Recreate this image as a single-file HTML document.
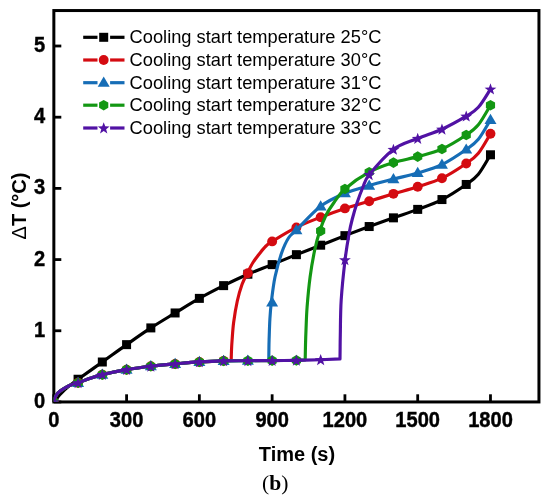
<!DOCTYPE html>
<html><head><meta charset="utf-8"><title>chart</title>
<style>
html,body{margin:0;padding:0;background:#fff;}
body{width:550px;height:500px;overflow:hidden;}
svg{display:block;font-family:"Liberation Sans",sans-serif;}
</style></head><body>
<svg width="550" height="500" viewBox="0 0 550 500">
<rect width="550" height="500" fill="#fff"/>
<defs><clipPath id="plot"><rect x="53.85" y="10.55" width="485.1" height="391.2"/></clipPath></defs>
<rect x="53.85" y="10.55" width="485.1" height="391.4" fill="none" stroke="#000" stroke-width="3"/>
<line x1="53.80" y1="401.95" x2="53.80" y2="394.3" stroke="#000" stroke-width="2.8"/>
<line x1="126.58" y1="401.95" x2="126.58" y2="394.3" stroke="#000" stroke-width="2.8"/>
<line x1="199.36" y1="401.95" x2="199.36" y2="394.3" stroke="#000" stroke-width="2.8"/>
<line x1="272.14" y1="401.95" x2="272.14" y2="394.3" stroke="#000" stroke-width="2.8"/>
<line x1="344.92" y1="401.95" x2="344.92" y2="394.3" stroke="#000" stroke-width="2.8"/>
<line x1="417.70" y1="401.95" x2="417.70" y2="394.3" stroke="#000" stroke-width="2.8"/>
<line x1="490.48" y1="401.95" x2="490.48" y2="394.3" stroke="#000" stroke-width="2.8"/>
<line x1="53.9" y1="401.95" x2="61.3" y2="401.95" stroke="#000" stroke-width="2.8"/>
<line x1="53.9" y1="330.76" x2="61.3" y2="330.76" stroke="#000" stroke-width="2.8"/>
<line x1="53.9" y1="259.57" x2="61.3" y2="259.57" stroke="#000" stroke-width="2.8"/>
<line x1="53.9" y1="188.38" x2="61.3" y2="188.38" stroke="#000" stroke-width="2.8"/>
<line x1="53.9" y1="117.19" x2="61.3" y2="117.19" stroke="#000" stroke-width="2.8"/>
<line x1="53.9" y1="46.00" x2="61.3" y2="46.00" stroke="#000" stroke-width="2.8"/>
<g clip-path="url(#plot)">
<path d="M53.80 401.95 C55.01 400.53 58.65 395.96 61.08 393.41 C63.50 390.86 65.53 389.01 68.36 386.64 C71.19 384.28 72.40 383.35 78.06 379.24 C83.72 375.14 94.23 367.78 102.32 362.01 C110.41 356.25 118.49 350.33 126.58 344.64 C134.67 338.96 142.75 333.19 150.84 327.91 C158.93 322.63 167.01 317.89 175.10 312.96 C183.19 308.04 191.27 302.92 199.36 298.37 C207.45 293.81 215.53 289.65 223.62 285.63 C231.71 281.60 239.79 277.74 247.88 274.24 C255.97 270.73 264.05 267.89 272.14 264.62 C280.23 261.36 288.31 257.90 296.40 254.66 C304.49 251.42 312.57 248.36 320.66 245.19 C328.75 242.02 336.83 238.76 344.92 235.65 C353.01 232.54 361.09 229.50 369.18 226.54 C377.27 223.57 385.35 220.71 393.44 217.85 C401.53 214.99 409.61 212.43 417.70 209.38 C425.79 206.33 433.87 203.71 441.96 199.56 C450.05 195.40 460.16 188.68 466.22 184.46 C472.29 180.25 474.31 179.20 478.35 174.25 C482.39 169.30 488.46 158.02 490.48 154.78" fill="none" stroke="#000000" stroke-width="3.15" stroke-linejoin="round" stroke-linecap="butt"/>
<rect x="49.30" y="397.45" width="9.0" height="9.0" fill="#000000"/>
<rect x="73.56" y="374.74" width="9.0" height="9.0" fill="#000000"/>
<rect x="97.82" y="357.51" width="9.0" height="9.0" fill="#000000"/>
<rect x="122.08" y="340.14" width="9.0" height="9.0" fill="#000000"/>
<rect x="146.34" y="323.41" width="9.0" height="9.0" fill="#000000"/>
<rect x="170.60" y="308.46" width="9.0" height="9.0" fill="#000000"/>
<rect x="194.86" y="293.87" width="9.0" height="9.0" fill="#000000"/>
<rect x="219.12" y="281.13" width="9.0" height="9.0" fill="#000000"/>
<rect x="243.38" y="269.74" width="9.0" height="9.0" fill="#000000"/>
<rect x="267.64" y="260.12" width="9.0" height="9.0" fill="#000000"/>
<rect x="291.90" y="250.16" width="9.0" height="9.0" fill="#000000"/>
<rect x="316.16" y="240.69" width="9.0" height="9.0" fill="#000000"/>
<rect x="340.42" y="231.15" width="9.0" height="9.0" fill="#000000"/>
<rect x="364.68" y="222.04" width="9.0" height="9.0" fill="#000000"/>
<rect x="388.94" y="213.35" width="9.0" height="9.0" fill="#000000"/>
<rect x="413.20" y="204.88" width="9.0" height="9.0" fill="#000000"/>
<rect x="437.46" y="195.06" width="9.0" height="9.0" fill="#000000"/>
<rect x="461.72" y="179.96" width="9.0" height="9.0" fill="#000000"/>
<rect x="485.98" y="150.28" width="9.0" height="9.0" fill="#000000"/>
<path d="M53.80 401.95 C53.96 401.36 54.33 399.58 54.77 398.39 C55.22 397.20 55.62 396.02 56.47 394.83 C57.32 393.64 58.29 392.52 59.86 391.27 C61.44 390.03 63.91 388.48 65.93 387.36 C67.95 386.23 69.97 385.27 72.00 384.51 C74.02 383.75 75.03 383.83 78.06 382.80 C81.09 381.77 86.15 379.68 90.19 378.31 C94.23 376.95 96.25 376.06 102.32 374.61 C108.38 373.17 118.49 371.03 126.58 369.63 C134.67 368.23 142.75 367.16 150.84 366.21 C158.93 365.26 167.01 364.65 175.10 363.93 C183.19 363.22 191.27 362.45 199.36 361.94 C207.45 361.43 219.58 361.05 223.62 360.87 L231.20 360.40 C231.25 358.67 231.35 353.40 231.50 350.00 C231.65 346.60 231.73 344.67 232.10 340.00 C232.47 335.33 232.83 328.50 233.70 322.00 C234.57 315.50 235.92 307.25 237.30 301.00 C238.68 294.75 240.32 289.17 242.00 284.50 C243.68 279.83 245.57 276.67 247.40 273.00 C249.23 269.33 250.90 265.83 253.00 262.50 C255.10 259.17 257.83 255.75 260.00 253.00 C262.17 250.25 263.98 247.93 266.00 246.00 C268.02 244.07 267.07 244.52 272.14 241.42 C277.21 238.32 288.31 231.43 296.40 227.39 C304.49 223.36 312.57 220.38 320.66 217.21 C328.75 214.04 336.83 211.05 344.92 208.38 C353.01 205.71 361.09 203.61 369.18 201.19 C377.27 198.77 385.35 196.27 393.44 193.86 C401.53 191.45 409.61 189.35 417.70 186.74 C425.79 184.13 433.87 182.08 441.96 178.20 C450.05 174.32 460.16 167.63 466.22 163.46 C472.29 159.30 474.31 158.17 478.35 153.21 C482.39 148.25 488.46 136.96 490.48 133.71" fill="none" stroke="#d40b11" stroke-width="3.15" stroke-linejoin="round" stroke-linecap="butt"/>
<circle cx="53.80" cy="401.95" r="4.95" fill="#d40b11"/>
<circle cx="78.06" cy="382.80" r="4.95" fill="#d40b11"/>
<circle cx="102.32" cy="374.61" r="4.95" fill="#d40b11"/>
<circle cx="126.58" cy="369.63" r="4.95" fill="#d40b11"/>
<circle cx="150.84" cy="366.21" r="4.95" fill="#d40b11"/>
<circle cx="175.10" cy="363.93" r="4.95" fill="#d40b11"/>
<circle cx="199.36" cy="361.94" r="4.95" fill="#d40b11"/>
<circle cx="223.62" cy="360.87" r="4.95" fill="#d40b11"/>
<circle cx="247.88" cy="273.31" r="4.95" fill="#d40b11"/>
<circle cx="272.14" cy="241.42" r="4.95" fill="#d40b11"/>
<circle cx="296.40" cy="227.39" r="4.95" fill="#d40b11"/>
<circle cx="320.66" cy="217.21" r="4.95" fill="#d40b11"/>
<circle cx="344.92" cy="208.38" r="4.95" fill="#d40b11"/>
<circle cx="369.18" cy="201.19" r="4.95" fill="#d40b11"/>
<circle cx="393.44" cy="193.86" r="4.95" fill="#d40b11"/>
<circle cx="417.70" cy="186.74" r="4.95" fill="#d40b11"/>
<circle cx="441.96" cy="178.20" r="4.95" fill="#d40b11"/>
<circle cx="466.22" cy="163.46" r="4.95" fill="#d40b11"/>
<circle cx="490.48" cy="133.71" r="4.95" fill="#d40b11"/>
<path d="M53.80 401.95 C53.96 401.36 54.33 399.58 54.77 398.39 C55.22 397.20 55.62 396.02 56.47 394.83 C57.32 393.64 58.29 392.52 59.86 391.27 C61.44 390.03 63.91 388.48 65.93 387.36 C67.95 386.23 69.97 385.27 72.00 384.51 C74.02 383.75 75.03 383.83 78.06 382.80 C81.09 381.77 86.15 379.68 90.19 378.31 C94.23 376.95 96.25 376.06 102.32 374.61 C108.38 373.17 118.49 371.03 126.58 369.63 C134.67 368.23 142.75 367.16 150.84 366.21 C158.93 365.26 167.01 364.65 175.10 363.93 C183.19 363.22 191.27 362.45 199.36 361.94 C207.45 361.43 215.53 361.08 223.62 360.87 C231.71 360.67 243.84 360.75 247.88 360.73 L268.80 360.20 C268.82 358.50 268.85 353.37 268.90 350.00 C268.95 346.63 268.93 345.17 269.10 340.00 C269.27 334.83 269.52 325.40 269.90 319.00 C270.28 312.60 270.55 308.60 271.40 301.60 C272.25 294.60 273.30 285.10 275.00 277.00 C276.70 268.90 279.35 259.50 281.60 253.00 C283.85 246.50 286.03 241.82 288.50 238.00 C290.97 234.18 291.04 235.38 296.40 230.10 C301.76 224.82 312.57 212.45 320.66 206.32 C328.75 200.19 336.83 196.74 344.92 193.29 C353.01 189.84 361.09 187.96 369.18 185.60 C377.27 183.24 385.35 181.24 393.44 179.13 C401.53 177.01 409.61 175.35 417.70 172.93 C425.79 170.51 433.87 168.51 441.96 164.60 C450.05 160.70 460.16 153.73 466.22 149.51 C472.29 145.29 474.31 144.24 478.35 139.29 C482.39 134.35 488.46 123.07 490.48 119.82" fill="none" stroke="#166db6" stroke-width="3.15" stroke-linejoin="round" stroke-linecap="butt"/>
<polygon points="53.80,395.83 47.80,406.03 59.80,406.03" fill="#166db6"/>
<polygon points="78.06,376.68 72.06,386.88 84.06,386.88" fill="#166db6"/>
<polygon points="102.32,368.49 96.32,378.69 108.32,378.69" fill="#166db6"/>
<polygon points="126.58,363.51 120.58,373.71 132.58,373.71" fill="#166db6"/>
<polygon points="150.84,360.09 144.84,370.29 156.84,370.29" fill="#166db6"/>
<polygon points="175.10,357.81 169.10,368.01 181.10,368.01" fill="#166db6"/>
<polygon points="199.36,355.82 193.36,366.02 205.36,366.02" fill="#166db6"/>
<polygon points="223.62,354.75 217.62,364.95 229.62,364.95" fill="#166db6"/>
<polygon points="247.88,354.61 241.88,364.81 253.88,364.81" fill="#166db6"/>
<polygon points="272.14,296.31 266.14,306.51 278.14,306.51" fill="#166db6"/>
<polygon points="296.40,223.98 290.40,234.18 302.40,234.18" fill="#166db6"/>
<polygon points="320.66,200.20 314.66,210.40 326.66,210.40" fill="#166db6"/>
<polygon points="344.92,187.17 338.92,197.37 350.92,197.37" fill="#166db6"/>
<polygon points="369.18,179.48 363.18,189.68 375.18,189.68" fill="#166db6"/>
<polygon points="393.44,173.01 387.44,183.21 399.44,183.21" fill="#166db6"/>
<polygon points="417.70,166.81 411.70,177.01 423.70,177.01" fill="#166db6"/>
<polygon points="441.96,158.48 435.96,168.68 447.96,168.68" fill="#166db6"/>
<polygon points="466.22,143.39 460.22,153.59 472.22,153.59" fill="#166db6"/>
<polygon points="490.48,113.70 484.48,123.90 496.48,123.90" fill="#166db6"/>
<path d="M53.80 401.95 C53.96 401.36 54.33 399.58 54.77 398.39 C55.22 397.20 55.62 396.02 56.47 394.83 C57.32 393.64 58.29 392.52 59.86 391.27 C61.44 390.03 63.91 388.48 65.93 387.36 C67.95 386.23 69.97 385.27 72.00 384.51 C74.02 383.75 75.03 383.83 78.06 382.80 C81.09 381.77 86.15 379.68 90.19 378.31 C94.23 376.95 96.25 376.06 102.32 374.61 C108.38 373.17 118.49 371.03 126.58 369.63 C134.67 368.23 142.75 367.16 150.84 366.21 C158.93 365.26 167.01 364.65 175.10 363.93 C183.19 363.22 191.27 362.45 199.36 361.94 C207.45 361.43 215.53 361.08 223.62 360.87 C231.71 360.67 239.79 360.78 247.88 360.73 C255.97 360.68 264.05 360.65 272.14 360.59 C280.23 360.53 292.36 360.41 296.40 360.38 L305.20 359.90 C305.25 357.42 305.37 349.98 305.50 345.00 C305.63 340.02 305.73 336.33 306.00 330.00 C306.27 323.67 306.42 315.83 307.10 307.00 C307.78 298.17 308.85 286.42 310.10 277.00 C311.35 267.58 313.02 258.08 314.60 250.50 C316.18 242.92 317.70 237.37 319.60 231.50 C321.50 225.63 323.60 220.13 326.00 215.30 C328.40 210.47 330.85 206.89 334.00 202.50 C337.15 198.11 339.06 194.00 344.92 188.95 C350.78 183.90 361.09 176.61 369.18 172.22 C377.27 167.83 385.35 165.21 393.44 162.61 C401.53 160.01 409.61 158.90 417.70 156.63 C425.79 154.36 433.87 152.62 441.96 149.01 C450.05 145.40 460.16 139.03 466.22 134.99 C472.29 130.94 474.31 129.70 478.35 124.74 C482.39 119.78 488.46 108.48 490.48 105.23" fill="none" stroke="#139713" stroke-width="3.15" stroke-linejoin="round" stroke-linecap="butt"/>
<polygon points="53.80,396.65 58.39,399.30 58.39,404.60 53.80,407.25 49.21,404.60 49.21,399.30" fill="#139713"/>
<polygon points="78.06,377.50 82.65,380.15 82.65,385.45 78.06,388.10 73.47,385.45 73.47,380.15" fill="#139713"/>
<polygon points="102.32,369.31 106.91,371.96 106.91,377.26 102.32,379.91 97.73,377.26 97.73,371.96" fill="#139713"/>
<polygon points="126.58,364.33 131.17,366.98 131.17,372.28 126.58,374.93 121.99,372.28 121.99,366.98" fill="#139713"/>
<polygon points="150.84,360.91 155.43,363.56 155.43,368.86 150.84,371.51 146.25,368.86 146.25,363.56" fill="#139713"/>
<polygon points="175.10,358.63 179.69,361.28 179.69,366.58 175.10,369.23 170.51,366.58 170.51,361.28" fill="#139713"/>
<polygon points="199.36,356.64 203.95,359.29 203.95,364.59 199.36,367.24 194.77,364.59 194.77,359.29" fill="#139713"/>
<polygon points="223.62,355.57 228.21,358.22 228.21,363.52 223.62,366.17 219.03,363.52 219.03,358.22" fill="#139713"/>
<polygon points="247.88,355.43 252.47,358.08 252.47,363.38 247.88,366.03 243.29,363.38 243.29,358.08" fill="#139713"/>
<polygon points="272.14,355.29 276.73,357.94 276.73,363.24 272.14,365.89 267.55,363.24 267.55,357.94" fill="#139713"/>
<polygon points="296.40,355.08 300.99,357.73 300.99,363.03 296.40,365.68 291.81,363.03 291.81,357.73" fill="#139713"/>
<polygon points="320.66,225.58 325.25,228.23 325.25,233.53 320.66,236.18 316.07,233.53 316.07,228.23" fill="#139713"/>
<polygon points="344.92,183.65 349.51,186.30 349.51,191.60 344.92,194.25 340.33,191.60 340.33,186.30" fill="#139713"/>
<polygon points="369.18,166.92 373.77,169.57 373.77,174.87 369.18,177.52 364.59,174.87 364.59,169.57" fill="#139713"/>
<polygon points="393.44,157.31 398.03,159.96 398.03,165.26 393.44,167.91 388.85,165.26 388.85,159.96" fill="#139713"/>
<polygon points="417.70,151.33 422.29,153.98 422.29,159.28 417.70,161.93 413.11,159.28 413.11,153.98" fill="#139713"/>
<polygon points="441.96,143.71 446.55,146.36 446.55,151.66 441.96,154.31 437.37,151.66 437.37,146.36" fill="#139713"/>
<polygon points="466.22,129.69 470.81,132.34 470.81,137.64 466.22,140.29 461.63,137.64 461.63,132.34" fill="#139713"/>
<polygon points="490.48,99.93 495.07,102.58 495.07,107.88 490.48,110.53 485.89,107.88 485.89,102.58" fill="#139713"/>
<path d="M53.80 401.95 C53.96 401.36 54.33 399.58 54.77 398.39 C55.22 397.20 55.62 396.02 56.47 394.83 C57.32 393.64 58.29 392.52 59.86 391.27 C61.44 390.03 63.91 388.48 65.93 387.36 C67.95 386.23 69.97 385.27 72.00 384.51 C74.02 383.75 75.03 383.83 78.06 382.80 C81.09 381.77 86.15 379.68 90.19 378.31 C94.23 376.95 96.25 376.06 102.32 374.61 C108.38 373.17 118.49 371.03 126.58 369.63 C134.67 368.23 142.75 367.16 150.84 366.21 C158.93 365.26 167.01 364.65 175.10 363.93 C183.19 363.22 191.27 362.45 199.36 361.94 C207.45 361.43 215.53 361.08 223.62 360.87 C231.71 360.67 239.79 360.78 247.88 360.73 C255.97 360.68 264.05 360.65 272.14 360.59 C280.23 360.53 288.31 360.52 296.40 360.38 C304.49 360.23 316.62 359.84 320.66 359.73 L340.00 358.90 C340.02 357.42 340.05 353.98 340.10 350.00 C340.15 346.02 340.12 343.33 340.30 335.00 C340.48 326.67 340.40 312.57 341.20 300.00 C342.00 287.43 343.77 270.77 345.10 259.60 C346.43 248.43 348.00 239.77 349.20 233.00 C350.40 226.23 351.00 224.00 352.30 219.00 C353.60 214.00 355.22 208.33 357.00 203.00 C358.78 197.67 360.97 191.71 363.00 187.00 C365.03 182.29 364.11 180.97 369.18 174.71 C374.25 168.45 385.35 155.48 393.44 149.44 C401.53 143.40 409.61 141.85 417.70 138.48 C425.79 135.11 433.87 132.93 441.96 129.22 C450.05 125.51 460.16 119.85 466.22 116.19 C472.29 112.54 474.31 111.80 478.35 107.29 C482.39 102.79 488.46 92.17 490.48 89.14" fill="none" stroke="#5112a4" stroke-width="3.15" stroke-linejoin="round" stroke-linecap="butt"/>
<polygon points="53.80,396.15 55.30,400.29 59.70,400.43 56.23,403.14 57.44,407.37 53.80,404.90 50.16,407.37 51.37,403.14 47.90,400.43 52.30,400.29" fill="#5112a4"/>
<polygon points="78.06,377.00 79.56,381.14 83.96,381.28 80.49,383.99 81.70,388.22 78.06,385.75 74.42,388.22 75.63,383.99 72.16,381.28 76.56,381.14" fill="#5112a4"/>
<polygon points="102.32,368.81 103.82,372.95 108.22,373.10 104.75,375.80 105.96,380.03 102.32,377.56 98.68,380.03 99.89,375.80 96.42,373.10 100.82,372.95" fill="#5112a4"/>
<polygon points="126.58,363.83 128.08,367.97 132.48,368.11 129.01,370.82 130.22,375.05 126.58,372.58 122.94,375.05 124.15,370.82 120.68,368.11 125.08,367.97" fill="#5112a4"/>
<polygon points="150.84,360.41 152.34,364.55 156.74,364.70 153.27,367.40 154.48,371.63 150.84,369.16 147.20,371.63 148.41,367.40 144.94,364.70 149.34,364.55" fill="#5112a4"/>
<polygon points="175.10,358.13 176.60,362.27 181.00,362.42 177.53,365.12 178.74,369.35 175.10,366.88 171.46,369.35 172.67,365.12 169.20,362.42 173.60,362.27" fill="#5112a4"/>
<polygon points="199.36,356.14 200.86,360.28 205.26,360.43 201.79,363.13 203.00,367.36 199.36,364.89 195.72,367.36 196.93,363.13 193.46,360.43 197.86,360.28" fill="#5112a4"/>
<polygon points="223.62,355.07 225.12,359.21 229.52,359.36 226.05,362.06 227.26,366.29 223.62,363.82 219.98,366.29 221.19,362.06 217.72,359.36 222.12,359.21" fill="#5112a4"/>
<polygon points="247.88,354.93 249.38,359.07 253.78,359.22 250.31,361.92 251.52,366.15 247.88,363.68 244.24,366.15 245.45,361.92 241.98,359.22 246.38,359.07" fill="#5112a4"/>
<polygon points="272.14,354.79 273.64,358.93 278.04,359.07 274.57,361.78 275.78,366.00 272.14,363.54 268.50,366.00 269.71,361.78 266.24,359.07 270.64,358.93" fill="#5112a4"/>
<polygon points="296.40,354.58 297.90,358.71 302.30,358.86 298.83,361.56 300.04,365.79 296.40,363.33 292.76,365.79 293.97,361.56 290.50,358.86 294.90,358.71" fill="#5112a4"/>
<polygon points="320.66,353.93 322.16,358.07 326.56,358.22 323.09,360.92 324.30,365.15 320.66,362.68 317.02,365.15 318.23,360.92 314.76,358.22 319.16,358.07" fill="#5112a4"/>
<polygon points="344.92,254.05 346.42,258.19 350.82,258.34 347.35,261.04 348.56,265.27 344.92,262.80 341.28,265.27 342.49,261.04 339.02,258.34 343.42,258.19" fill="#5112a4"/>
<polygon points="369.18,168.91 370.68,173.05 375.08,173.20 371.61,175.90 372.82,180.13 369.18,177.66 365.54,180.13 366.75,175.90 363.28,173.20 367.68,173.05" fill="#5112a4"/>
<polygon points="393.44,143.64 394.94,147.78 399.34,147.92 395.87,150.63 397.08,154.85 393.44,152.39 389.80,154.85 391.01,150.63 387.54,147.92 391.94,147.78" fill="#5112a4"/>
<polygon points="417.70,132.68 419.20,136.81 423.60,136.96 420.13,139.66 421.34,143.89 417.70,141.43 414.06,143.89 415.27,139.66 411.80,136.96 416.20,136.81" fill="#5112a4"/>
<polygon points="441.96,123.42 443.46,127.56 447.86,127.71 444.39,130.41 445.60,134.64 441.96,132.17 438.32,134.64 439.53,130.41 436.06,127.71 440.46,127.56" fill="#5112a4"/>
<polygon points="466.22,110.39 467.72,114.53 472.12,114.68 468.65,117.38 469.86,121.61 466.22,119.14 462.58,121.61 463.79,117.38 460.32,114.68 464.72,114.53" fill="#5112a4"/>
<polygon points="490.48,83.34 491.98,87.48 496.38,87.63 492.91,90.33 494.12,94.56 490.48,92.09 486.84,94.56 488.05,90.33 484.58,87.63 488.98,87.48" fill="#5112a4"/>
</g>
<text transform="translate(53.80,426.9) scale(1,1.06)" stroke="#000" stroke-width="0.4" text-anchor="middle" font-size="20.1" font-weight="bold">0</text>
<text transform="translate(126.58,426.9) scale(1,1.06)" stroke="#000" stroke-width="0.4" text-anchor="middle" font-size="20.1" font-weight="bold">300</text>
<text transform="translate(199.36,426.9) scale(1,1.06)" stroke="#000" stroke-width="0.4" text-anchor="middle" font-size="20.1" font-weight="bold">600</text>
<text transform="translate(272.14,426.9) scale(1,1.06)" stroke="#000" stroke-width="0.4" text-anchor="middle" font-size="20.1" font-weight="bold">900</text>
<text transform="translate(344.92,426.9) scale(1,1.06)" stroke="#000" stroke-width="0.4" text-anchor="middle" font-size="20.1" font-weight="bold">1200</text>
<text transform="translate(417.70,426.9) scale(1,1.06)" stroke="#000" stroke-width="0.4" text-anchor="middle" font-size="20.1" font-weight="bold">1500</text>
<text transform="translate(490.48,426.9) scale(1,1.06)" stroke="#000" stroke-width="0.4" text-anchor="middle" font-size="20.1" font-weight="bold">1800</text>
<text transform="translate(45.1,407.95) scale(1,1.06)" stroke="#000" stroke-width="0.4" text-anchor="end" font-size="20.1" font-weight="bold">0</text>
<text transform="translate(45.1,336.76) scale(1,1.06)" stroke="#000" stroke-width="0.4" text-anchor="end" font-size="20.1" font-weight="bold">1</text>
<text transform="translate(45.1,265.57) scale(1,1.06)" stroke="#000" stroke-width="0.4" text-anchor="end" font-size="20.1" font-weight="bold">2</text>
<text transform="translate(45.1,194.38) scale(1,1.06)" stroke="#000" stroke-width="0.4" text-anchor="end" font-size="20.1" font-weight="bold">3</text>
<text transform="translate(45.1,123.19) scale(1,1.06)" stroke="#000" stroke-width="0.4" text-anchor="end" font-size="20.1" font-weight="bold">4</text>
<text transform="translate(45.1,52.00) scale(1,1.06)" stroke="#000" stroke-width="0.4" text-anchor="end" font-size="20.1" font-weight="bold">5</text>
<text x="297" y="460.7" text-anchor="middle" font-size="20" font-weight="bold">Time (s)</text>
<text transform="translate(25.9,206) rotate(-90)" text-anchor="middle" font-size="20" font-weight="bold"><tspan font-weight="normal">Δ</tspan>T (°C)</text>
<text transform="translate(275.3,490) scale(1.08,1)" text-anchor="middle" font-size="20" font-family="'Liberation Serif', 'DejaVu Serif', serif">(<tspan font-weight="bold">b</tspan>)</text>
<line x1="83.2" y1="37.30" x2="97.5" y2="37.30" stroke="#000000" stroke-width="3.2"/>
<line x1="110.1" y1="37.30" x2="124.5" y2="37.30" stroke="#000000" stroke-width="3.2"/>
<rect x="99.20" y="32.80" width="9.0" height="9.0" fill="#000000"/>
<text x="129.6" y="43.30" font-size="18.25">Cooling start temperature 25°C</text>
<line x1="83.2" y1="60.00" x2="97.5" y2="60.00" stroke="#d40b11" stroke-width="3.2"/>
<line x1="110.1" y1="60.00" x2="124.5" y2="60.00" stroke="#d40b11" stroke-width="3.2"/>
<circle cx="103.70" cy="60.00" r="4.95" fill="#d40b11"/>
<text x="129.6" y="66.00" font-size="18.25">Cooling start temperature 30°C</text>
<line x1="83.2" y1="82.70" x2="97.5" y2="82.70" stroke="#166db6" stroke-width="3.2"/>
<line x1="110.1" y1="82.70" x2="124.5" y2="82.70" stroke="#166db6" stroke-width="3.2"/>
<polygon points="103.70,76.58 97.70,86.78 109.70,86.78" fill="#166db6"/>
<text x="129.6" y="88.70" font-size="18.25">Cooling start temperature 31°C</text>
<line x1="83.2" y1="105.20" x2="97.5" y2="105.20" stroke="#139713" stroke-width="3.2"/>
<line x1="110.1" y1="105.20" x2="124.5" y2="105.20" stroke="#139713" stroke-width="3.2"/>
<polygon points="103.70,99.90 108.29,102.55 108.29,107.85 103.70,110.50 99.11,107.85 99.11,102.55" fill="#139713"/>
<text x="129.6" y="111.20" font-size="18.25">Cooling start temperature 32°C</text>
<line x1="83.2" y1="128.00" x2="97.5" y2="128.00" stroke="#5112a4" stroke-width="3.2"/>
<line x1="110.1" y1="128.00" x2="124.5" y2="128.00" stroke="#5112a4" stroke-width="3.2"/>
<polygon points="103.70,122.20 105.20,126.34 109.60,126.48 106.13,129.19 107.34,133.42 103.70,130.95 100.06,133.42 101.27,129.19 97.80,126.48 102.20,126.34" fill="#5112a4"/>
<text x="129.6" y="134.00" font-size="18.25">Cooling start temperature 33°C</text>
</svg>
</body></html>
